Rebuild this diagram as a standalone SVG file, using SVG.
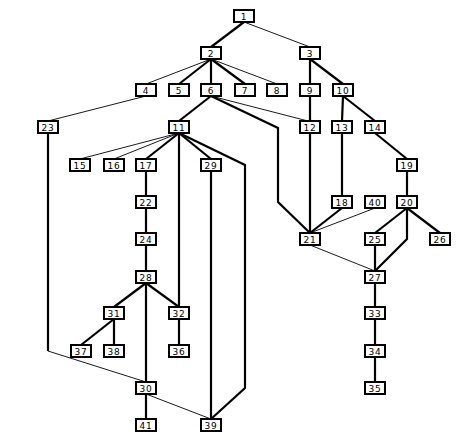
<svg xmlns="http://www.w3.org/2000/svg" width="474" height="442" viewBox="0 0 474 442">
<style>
.n rect{fill:#fff;stroke:#000;stroke-width:2}
.n text{font-family:"DejaVu Sans",sans-serif;font-size:9px;fill:#000;text-anchor:middle;letter-spacing:0.8px}
.k{fill:none;stroke:#000;stroke-width:2.2}
.t{fill:none;stroke:#000;stroke-width:0.9}
</style>
<rect width="474" height="442" fill="#fff"/>
<g id="connectors">
<path class="k" d="M244 22L211 47"/>
<path class="t" d="M244 22L310 47"/>
<path class="t" d="M211 59L146 84"/>
<path class="k" d="M211 59L179 84"/>
<path class="k" d="M211 59L211 84"/>
<path class="k" d="M211 59L245 84"/>
<path class="t" d="M211 59L277 84"/>
<path class="k" d="M310 59L310 84"/>
<path class="k" d="M310 59L343 84"/>
<path class="t" d="M146 96L48 121"/>
<path class="k" d="M211 96L179 121"/>
<path class="t" d="M211 96L308 121"/>
<path class="k" d="M211 96L278 128L278 202L310 233"/>
<path class="k" d="M310 96L310 121"/>
<path class="k" d="M310 133L310 233"/>
<path class="k" d="M343 96L342 121"/>
<path class="k" d="M343 96L375 121"/>
<path class="k" d="M342 133L342 196"/>
<path class="k" d="M375 133L407 159"/>
<path class="k" d="M407 171L407 196"/>
<path class="k" d="M342 208L310 233"/>
<path class="t" d="M375 208L310 233"/>
<path class="k" d="M407 208L375 233"/>
<path class="k" d="M407 208L440 233"/>
<path class="k" d="M407 208L407 239L375 271"/>
<path class="t" d="M310 245L375 271"/>
<path class="k" d="M375 245L375 271"/>
<path class="k" d="M375 283L375 307"/>
<path class="k" d="M375 319L375 345"/>
<path class="k" d="M375 357L375 382"/>
<path class="t" d="M179 133L80 159"/>
<path class="t" d="M179 133L114 159"/>
<path class="k" d="M179 133L146 159"/>
<path class="k" d="M179 133L211 159"/>
<path class="k" d="M179 133L179 307"/>
<path class="k" d="M179 133L245 165L245 388L211 419"/>
<path class="k" d="M211 171L211 419"/>
<path class="k" d="M146 171L146 196"/>
<path class="k" d="M146 208L146 233"/>
<path class="k" d="M146 245L146 271"/>
<path class="k" d="M146 283L114 307"/>
<path class="k" d="M146 283L179 307"/>
<path class="k" d="M146 283L146 382"/>
<path class="k" d="M114 319L81 345"/>
<path class="k" d="M114 319L114 345"/>
<path class="k" d="M179 319L179 345"/>
<path class="k" d="M48 133L48 351"/>
<path class="t" d="M48 351L146 382"/>
<path class="k" d="M146 394L146 419"/>
<path class="t" d="M146 394L211 419"/>
</g>
<g id="n1" class="n"><rect x="234" y="10" width="20" height="12"/><text x="244" y="19.5">1</text></g>
<g id="n2" class="n"><rect x="201" y="47" width="20" height="12"/><text x="211" y="56.5">2</text></g>
<g id="n3" class="n"><rect x="300" y="47" width="20" height="12"/><text x="310" y="56.5">3</text></g>
<g id="n4" class="n"><rect x="136" y="84" width="20" height="12"/><text x="146" y="93.5">4</text></g>
<g id="n5" class="n"><rect x="169" y="84" width="20" height="12"/><text x="179" y="93.5">5</text></g>
<g id="n6" class="n"><rect x="201" y="84" width="20" height="12"/><text x="211" y="93.5">6</text></g>
<g id="n7" class="n"><rect x="235" y="84" width="20" height="12"/><text x="245" y="93.5">7</text></g>
<g id="n8" class="n"><rect x="267" y="84" width="20" height="12"/><text x="277" y="93.5">8</text></g>
<g id="n9" class="n"><rect x="300" y="84" width="20" height="12"/><text x="310" y="93.5">9</text></g>
<g id="n10" class="n"><rect x="333" y="84" width="20" height="12"/><text x="343" y="93.5">10</text></g>
<g id="n23" class="n"><rect x="38" y="121" width="20" height="12"/><text x="48" y="130.5">23</text></g>
<g id="n11" class="n"><rect x="169" y="121" width="20" height="12"/><text x="179" y="130.5">11</text></g>
<g id="n12" class="n"><rect x="300" y="121" width="20" height="12"/><text x="310" y="130.5">12</text></g>
<g id="n13" class="n"><rect x="332" y="121" width="20" height="12"/><text x="342" y="130.5">13</text></g>
<g id="n14" class="n"><rect x="365" y="121" width="20" height="12"/><text x="375" y="130.5">14</text></g>
<g id="n15" class="n"><rect x="70" y="159" width="20" height="12"/><text x="80" y="168.5">15</text></g>
<g id="n16" class="n"><rect x="104" y="159" width="20" height="12"/><text x="114" y="168.5">16</text></g>
<g id="n17" class="n"><rect x="136" y="159" width="20" height="12"/><text x="146" y="168.5">17</text></g>
<g id="n29" class="n"><rect x="201" y="159" width="20" height="12"/><text x="211" y="168.5">29</text></g>
<g id="n19" class="n"><rect x="397" y="159" width="20" height="12"/><text x="407" y="168.5">19</text></g>
<g id="n22" class="n"><rect x="136" y="196" width="20" height="12"/><text x="146" y="205.5">22</text></g>
<g id="n18" class="n"><rect x="332" y="196" width="20" height="12"/><text x="342" y="205.5">18</text></g>
<g id="n40" class="n"><rect x="365" y="196" width="20" height="12"/><text x="375" y="205.5">40</text></g>
<g id="n20" class="n"><rect x="397" y="196" width="20" height="12"/><text x="407" y="205.5">20</text></g>
<g id="n24" class="n"><rect x="136" y="233" width="20" height="12"/><text x="146" y="242.5">24</text></g>
<g id="n21" class="n"><rect x="300" y="233" width="20" height="12"/><text x="310" y="242.5">21</text></g>
<g id="n25" class="n"><rect x="365" y="233" width="20" height="12"/><text x="375" y="242.5">25</text></g>
<g id="n26" class="n"><rect x="430" y="233" width="20" height="12"/><text x="440" y="242.5">26</text></g>
<g id="n28" class="n"><rect x="136" y="271" width="20" height="12"/><text x="146" y="280.5">28</text></g>
<g id="n27" class="n"><rect x="365" y="271" width="20" height="12"/><text x="375" y="280.5">27</text></g>
<g id="n31" class="n"><rect x="104" y="307" width="20" height="12"/><text x="114" y="316.5">31</text></g>
<g id="n32" class="n"><rect x="169" y="307" width="20" height="12"/><text x="179" y="316.5">32</text></g>
<g id="n33" class="n"><rect x="365" y="307" width="20" height="12"/><text x="375" y="316.5">33</text></g>
<g id="n37" class="n"><rect x="71" y="345" width="20" height="12"/><text x="81" y="354.5">37</text></g>
<g id="n38" class="n"><rect x="104" y="345" width="20" height="12"/><text x="114" y="354.5">38</text></g>
<g id="n36" class="n"><rect x="169" y="345" width="20" height="12"/><text x="179" y="354.5">36</text></g>
<g id="n34" class="n"><rect x="365" y="345" width="20" height="12"/><text x="375" y="354.5">34</text></g>
<g id="n30" class="n"><rect x="136" y="382" width="20" height="12"/><text x="146" y="391.5">30</text></g>
<g id="n35" class="n"><rect x="365" y="382" width="20" height="12"/><text x="375" y="391.5">35</text></g>
<g id="n41" class="n"><rect x="136" y="419" width="20" height="12"/><text x="146" y="428.5">41</text></g>
<g id="n39" class="n"><rect x="201" y="419" width="20" height="12"/><text x="211" y="428.5">39</text></g>
</svg>
